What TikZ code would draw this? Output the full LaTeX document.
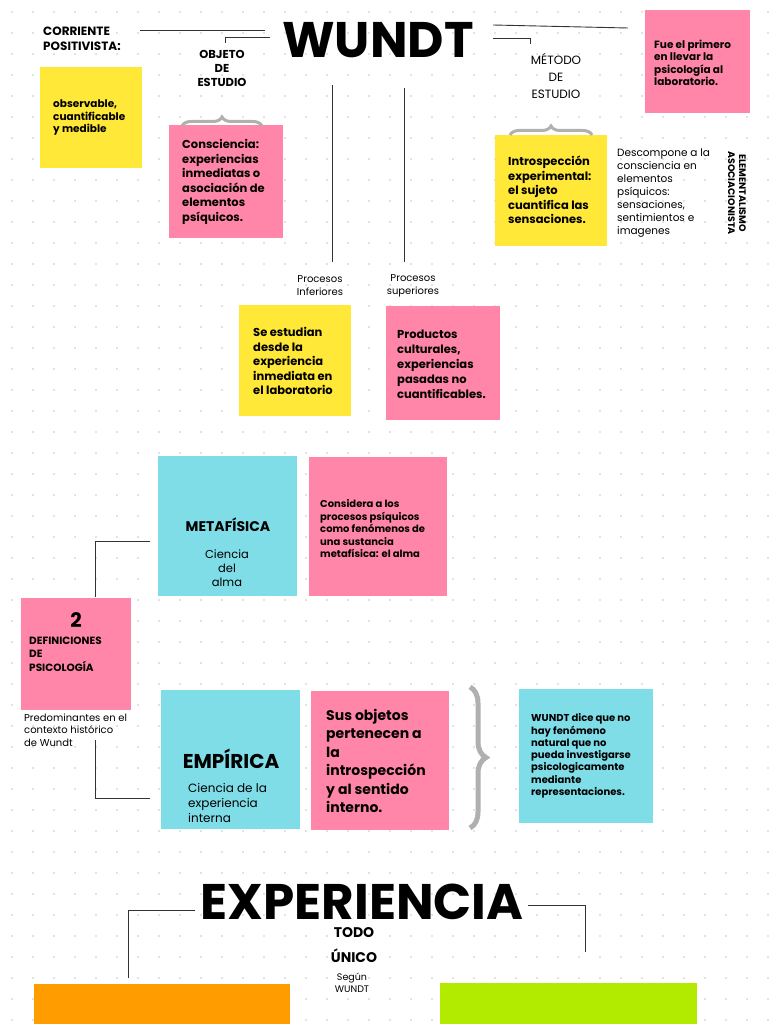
\documentclass[tikz,border=0pt]{standalone}
\usepackage{fontspec}
\setmainfont{Poppins}
\usetikzlibrary{decorations.pathreplacing}
\definecolor{yel}{HTML}{FFE838}
\definecolor{pnk}{HTML}{FF86A8}
\definecolor{cya}{HTML}{7FDDE8}
\definecolor{org}{HTML}{FF9D00}
\definecolor{grn}{HTML}{B2EB00}
\definecolor{brc}{HTML}{B0B0B0}
\begin{document}
\begin{tikzpicture}[x=1pt,y=-1pt,
  note/.style={inner sep=0pt},
  txt/.style={align=left,font=\fontsize{10.5}{12.5}\selectfont\bfseries,anchor=west,inner sep=0pt},
  ctxt/.style={align=center,font=\fontsize{10.5}{12.5}\selectfont,inner sep=0pt},
  ln/.style={line width=0.9pt,black!80}]
\useasboundingbox (0,0) rectangle (768,1024);
\fill[white] (0,0) rectangle (768,1024);
\foreach \i in {0,...,36}{\foreach \j in {0,...,48}{\fill[black!22] (12+\i*21,12+\j*21) circle (0.9);}}
% boxes
\fill[yel] (40,67) rectangle (142,168);
\fill[pnk] (169,125) rectangle (283,238);
\fill[yel] (495,135) rectangle (607,246);
\fill[pnk] (645,10) rectangle (750,113);
\fill[yel] (239,305) rectangle (351,416);
\fill[pnk] (386,306) rectangle (500,420);
\fill[cya] (158,456) rectangle (297,596);
\fill[pnk] (309,457) rectangle (447,596);
\fill[pnk] (21,598) rectangle (131,710);
\fill[cya] (161,690) rectangle (300,829);
\fill[pnk] (311,691) rectangle (449,830);
\fill[cya] (519,689) rectangle (653,823);
\fill[org] (34,984) rectangle (290,1024);
\fill[grn] (440,983) rectangle (697,1024);
% titles
\node[note,font=\fontsize{50}{50}\selectfont\bfseries,text depth=0pt] (w) at (378,40) {WUNDT};
\node[note,font=\fontsize{50}{50}\selectfont\bfseries,text depth=0pt,anchor=base] (exp) at (362,919) {EXPERIENCIA};
% lines
\draw[ln] (140,30) -- (265,30);
\draw[ln] (225,43) -- (225,37) -- (270,37);
\draw[ln] (493,25) -- (628,28);
\draw[ln] (493,38) -- (530,38) -- (530,44);
\draw[ln] (332,85) -- (332,262);
\draw[ln] (404,88) -- (404,262);
\draw[ln] (150,541) -- (95,541) -- (95,597);
\draw[ln] (95,740) -- (95,798) -- (150,798);
\draw[ln] (195,910) -- (128,910) -- (128,978);
\draw[ln] (528,905) -- (585,905) -- (585,952);
% braces
\draw[brc,line width=3pt,decorate,decoration={brace,amplitude=9pt}] (182,126) -- (262,126);
\draw[brc,line width=3pt,decorate,decoration={brace,amplitude=9pt}] (510,135) -- (592,135);
\draw[brc,line width=5pt,decorate,decoration={brace,amplitude=16pt}] (470,687) -- (470,828);
% texts
\node[txt,font=\fontsize{12}{14.5}\selectfont\bfseries] at (43,39) {CORRIENTE\\POSITIVISTA:};
\node[ctxt,font=\fontsize{11.5}{14}\selectfont\bfseries] at (222,68) {OBJETO\\DE\\ESTUDIO};
\node[ctxt,font=\fontsize{12}{17}\selectfont] at (556,76) {MÉTODO\\DE\\ESTUDIO};
\node[txt] at (53,118) {observable,\\cuantificable\\y medible};
\node[txt,font=\fontsize{11.5}{14.5}\selectfont\bfseries] at (182,182) {Consciencia:\\experiencias\\inmediatas o\\asociación de\\elementos\\psíquicos.};
\node[txt,font=\fontsize{11.5}{14.5}\selectfont\bfseries] at (508,190) {Introspección\\experimental:\\el sujeto\\cuantifica las\\sensaciones.};
\node[txt,font=\fontsize{10.5}{12.5}\selectfont\bfseries] at (654,63) {Fue el primero\\en llevar la\\psicología al\\laboratorio.};
\node[txt,font=\fontsize{10.5}{13}\selectfont] at (617,193) {Descompone a la\\consciencia en\\elementos\\psíquicos:\\sensaciones,\\sentimientos e\\imagenes};
\node[rotate=-90,align=center,font=\fontsize{9.5}{11}\selectfont\bfseries] at (737,193) {ELEMENTALISMO\\ASOCIACIONISTA};
\node[ctxt,font=\fontsize{10}{13}\selectfont] at (320,286) {Procesos\\Inferiores};
\node[ctxt,font=\fontsize{10}{13}\selectfont] at (413,286) {Procesos\\superiores};
\node[txt,font=\fontsize{11.5}{14.5}\selectfont\bfseries] at (253,361) {Se estudian\\desde la\\experiencia\\inmediata en\\el laboratorio};
\node[txt,font=\fontsize{11.5}{15}\selectfont\bfseries] at (397,364) {Productos\\culturales,\\experiencias\\pasadas no\\cuantificables.};
\node[ctxt,font=\fontsize{14}{16}\selectfont\bfseries] at (228,525) {METAFÍSICA};
\node[ctxt,font=\fontsize{11.5}{14}\selectfont] at (227,568) {Ciencia\\del\\alma};
\node[txt,font=\fontsize{10}{12.5}\selectfont\bfseries] at (320,529) {Considera a los\\procesos psíquicos\\como fenómenos de\\una sustancia\\metafísica: el alma};
\node[ctxt,font=\fontsize{20}{20}\selectfont\bfseries] at (76,620) {2};
\node[txt,font=\fontsize{10.5}{13.5}\selectfont\bfseries] at (29,654) {DEFINICIONES\\DE\\PSICOLOGÍA};
\node[txt,font=\fontsize{10}{12.5}\selectfont] at (24,730) {Predominantes en el\\contexto histórico\\de Wundt};
\node[ctxt,font=\fontsize{20}{20}\selectfont\bfseries] at (231,759) {EMPÍRICA};
\node[txt,font=\fontsize{12}{15}\selectfont] at (188,803) {Ciencia de la\\experiencia\\interna};
\node[txt,font=\fontsize{14}{18.5}\selectfont\bfseries] at (326,761) {Sus objetos\\pertenecen a\\la\\introspección\\y al sentido\\interno.};
\node[txt,font=\fontsize{10}{12.3}\selectfont\bfseries] at (531,756) {WUNDT dice que no\\hay fenómeno\\natural que no\\pueda investigarse\\psicologicamente\\mediante\\representaciones.};
\node[ctxt,font=\fontsize{14}{16}\selectfont\bfseries] (todo) at (354,933) {TODO};
\node[ctxt,font=\fontsize{14}{16}\selectfont\bfseries] (unico) at (354,956) {ÚNICO};
\node[ctxt,font=\fontsize{9.5}{12}\selectfont] at (352,983) {Según\\WUNDT};
\end{tikzpicture}
\end{document}
